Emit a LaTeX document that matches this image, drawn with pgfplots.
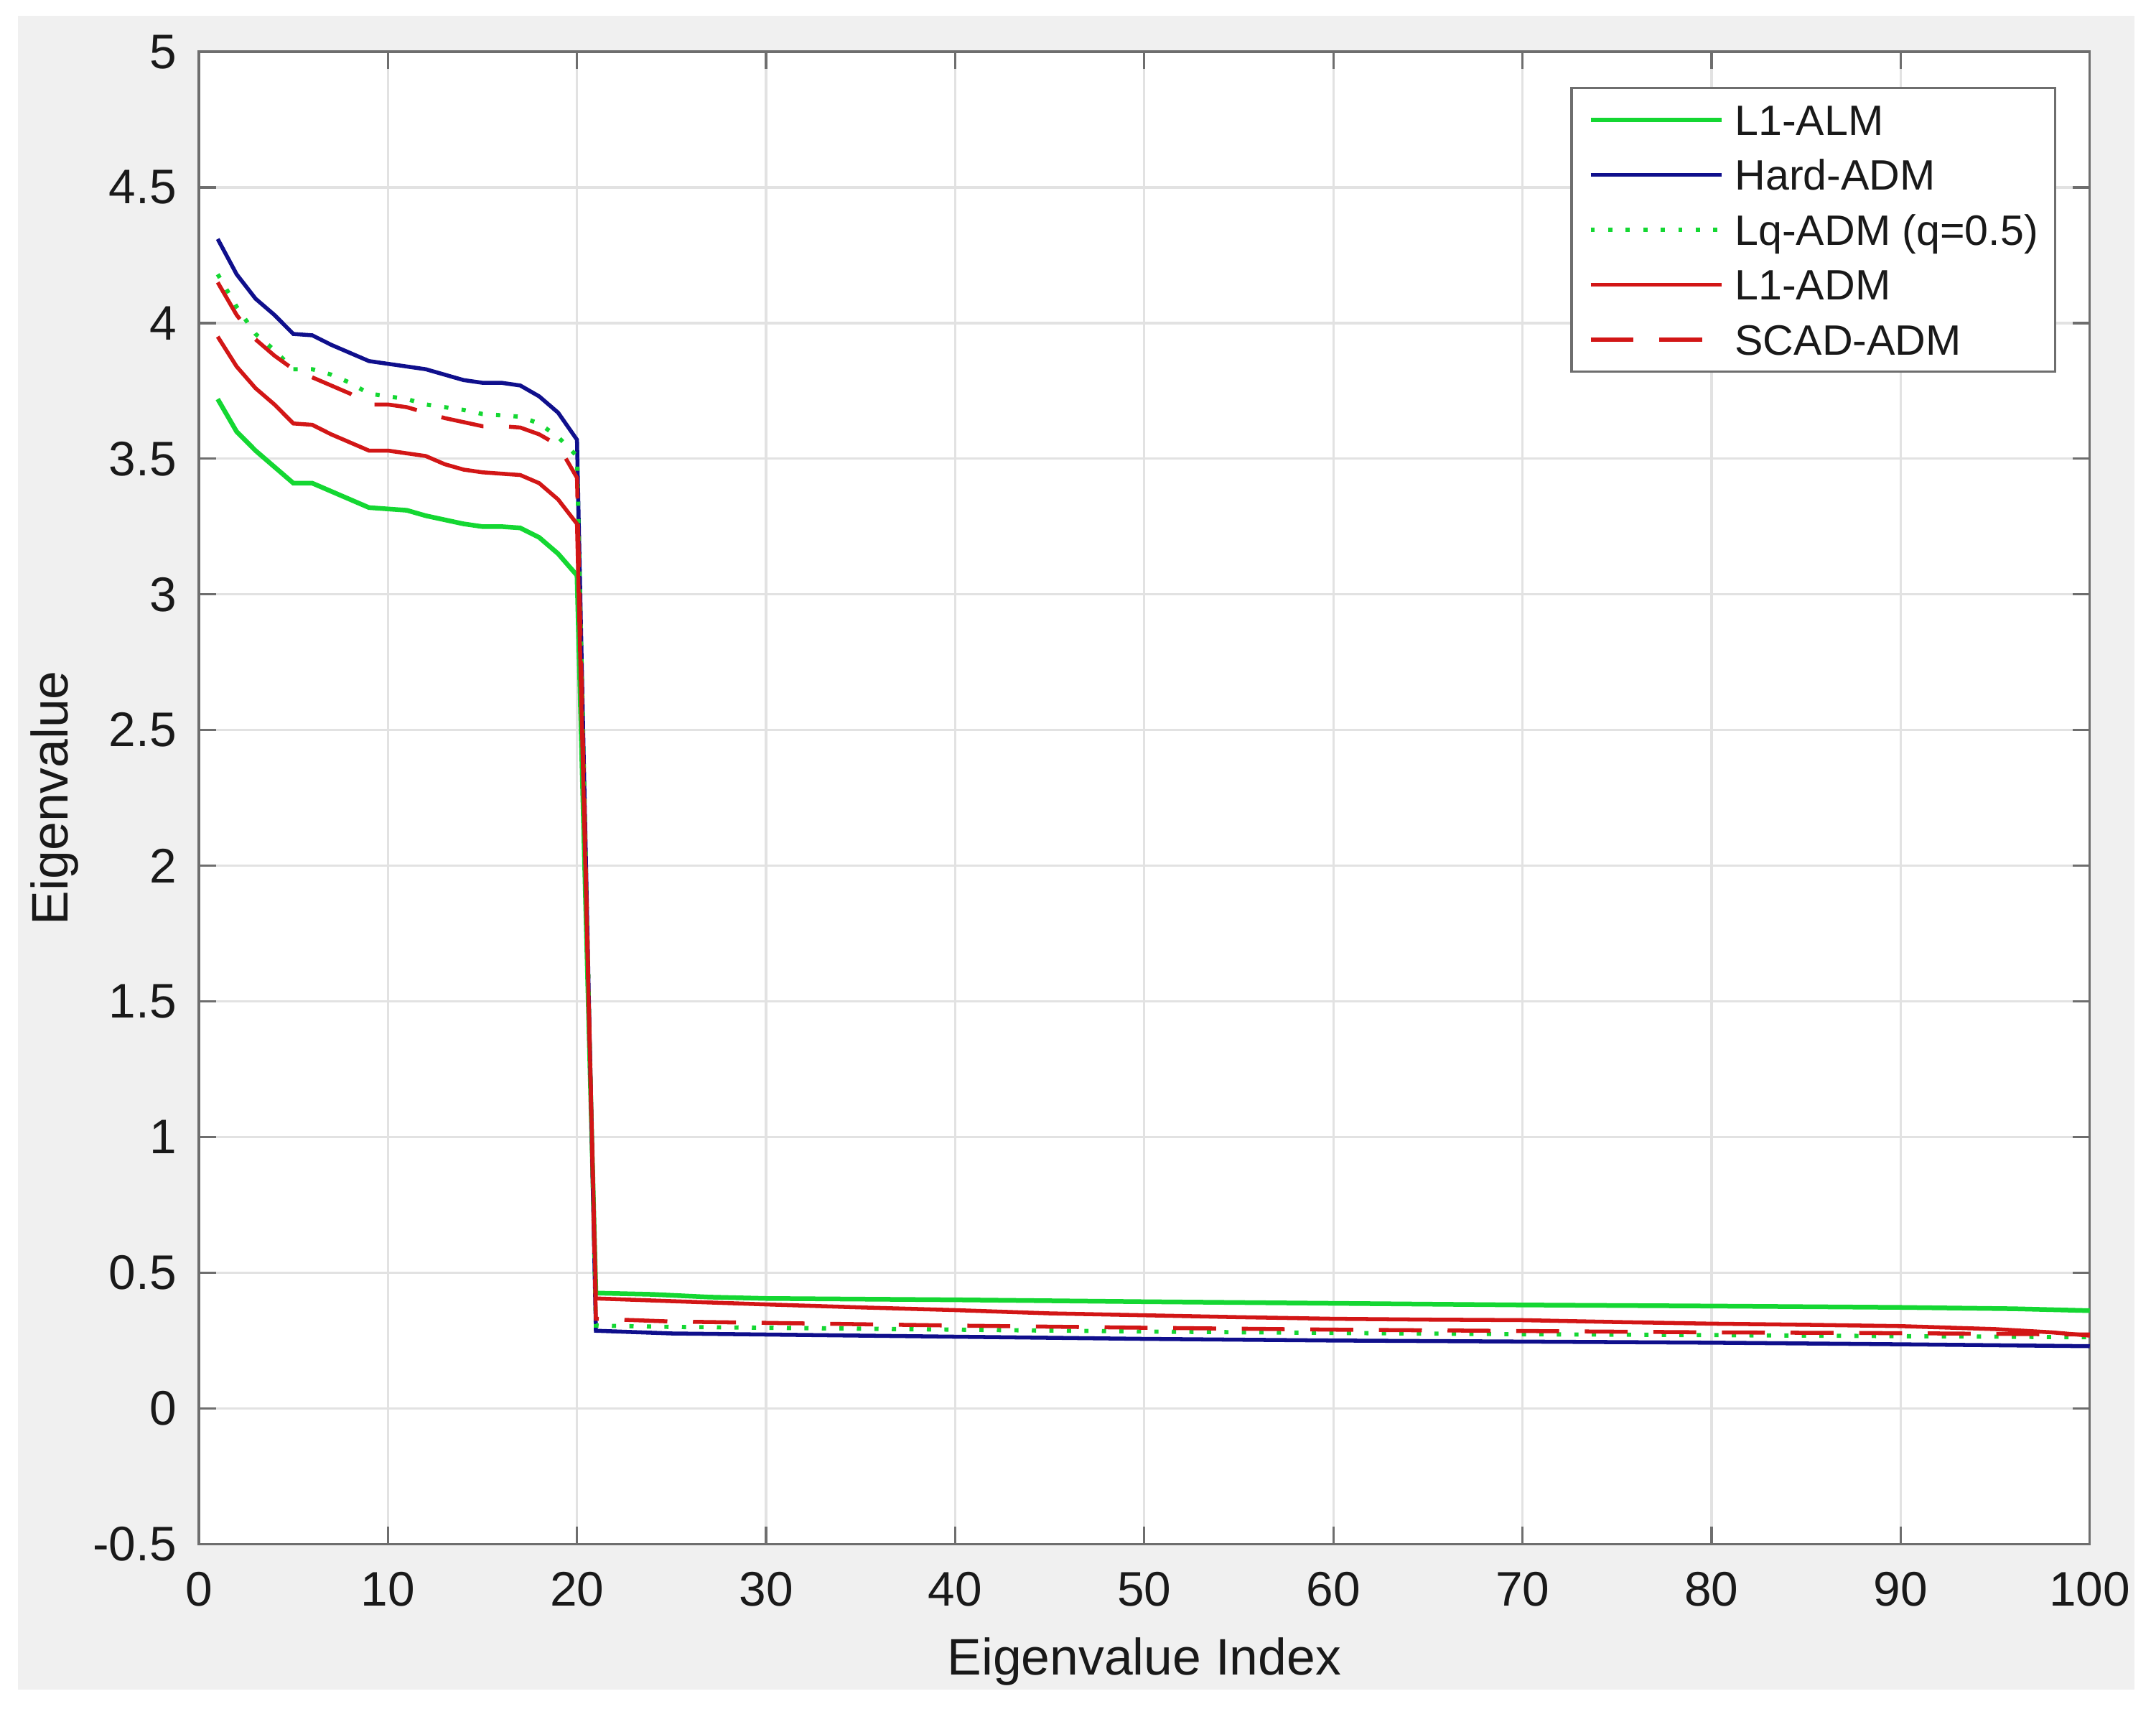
\documentclass[border=0pt]{standalone}
\usepackage{fontspec}
\setmainfont{Liberation Sans}
\usepackage{pgfplots}
\pgfplotsset{compat=1.18}
\definecolor{bgray}{RGB}{240,240,240}
\definecolor{axgray}{RGB}{110,110,110}
\definecolor{gridgray}{RGB}{226,226,226}
\definecolor{cgreen}{RGB}{20,215,50}
\definecolor{cblue}{RGB}{15,15,140}
\definecolor{cred}{RGB}{210,22,22}
\definecolor{txt}{RGB}{25,25,25}
\begin{document}
\begin{tikzpicture}
\fill[white] (0,0) rectangle (462pt,366pt);
\fill[bgray] (3.85pt,4pt) rectangle (457.4pt,362.6pt);
\begin{axis}[
  at={(42.6pt,35.2pt)}, anchor=south west,
  scale only axis, width=405.2pt, height=319.7pt,
  xmin=0, xmax=100, ymin=-0.5, ymax=5,
  xtick={0,10,20,30,40,50,60,70,80,90,100},
  xticklabels={0,10,20,30,40,50,60,70,80,90,100},
  ytick={-0.5,0,0.5,1,1.5,2,2.5,3,3.5,4,4.5,5},
  yticklabels={-0.5,0,0.5,1,1.5,2,2.5,3,3.5,4,4.5,5},
  tick align=inside, major tick length=3.7pt,
  tick style={axgray, line width=0.5pt},
  axis line style={axgray, line width=0.5pt},
  grid=major, major grid style={gridgray, line width=0.5pt},
  axis background/.style={fill=white},
  ticklabel style={font=\fontsize{10.4}{12}\selectfont, text=txt},
  xticklabel style={anchor=base, yshift=-13.35pt},
  yticklabel style={anchor=east, inner xsep=0pt, xshift=-4.6pt},
  xlabel={Eigenvalue Index}, ylabel={Eigenvalue},
  every axis x label/.style={at={(axis description cs:0.5,-0.0876)}, anchor=base, font=\fontsize{11}{13}\selectfont, text=txt},
  every axis y label/.style={at={(axis description cs:-0.0691,0.5)}, rotate=90, anchor=base, font=\fontsize{11}{13}\selectfont, text=txt},
  legend cell align=left,
  legend style={at={(1,1)}, anchor=north east, xshift=-7.2pt, yshift=-7.5pt,
    draw=axgray, line width=0.5pt, fill=white,
    font=\fontsize{9.1}{10}\selectfont,
    inner xsep=3.6pt, inner ysep=3.6pt, row sep=5.27pt,
    /tikz/every odd column/.append style={column sep=2.4pt},
    nodes={inner sep=0pt, text height=6.5pt, text depth=0pt, text=txt}},
  legend image code/.code={\draw[#1] plot coordinates {(0pt,0pt) (28pt,0pt)};},
]
% L1-ALM
\addplot[cgreen, line width=1pt] coordinates {
(1,3.72) (2,3.60) (3,3.53) (4,3.47) (5,3.41) (6,3.41) (7,3.38) (8,3.35) (9,3.32) (10,3.315)
(11,3.31) (12,3.29) (13,3.275) (14,3.26) (15,3.25) (16,3.25) (17,3.245) (18,3.21) (19,3.15) (20,3.07)
(21,0.425) (24,0.420) (27,0.410) (30,0.405) (40,0.400) (50,0.393) (60,0.387) (70,0.381) (80,0.377) (90,0.372) (96,0.367) (100,0.360)
};
\addlegendentry{L1-ALM}
% Hard-ADM
\addplot[cblue, line width=0.85pt] coordinates {
(1,4.31) (2,4.18) (3,4.09) (4,4.03) (5,3.96) (6,3.955) (7,3.92) (8,3.89) (9,3.86) (10,3.85)
(11,3.84) (12,3.83) (13,3.81) (14,3.79) (15,3.78) (16,3.78) (17,3.77) (18,3.73) (19,3.67) (20,3.57)
(21,0.286) (25,0.276) (30,0.272) (40,0.264) (50,0.256) (60,0.250) (70,0.246) (80,0.242) (90,0.236) (100,0.229)
};
\addlegendentry{Hard-ADM}
% Lq-ADM
\addplot[cgreen, line width=0.9pt, dash pattern=on 0.9pt off 2.85pt] coordinates {
(1,4.18) (2,4.06) (3,3.96) (4,3.90) (5,3.83) (6,3.83) (7,3.81) (8,3.78) (9,3.74) (10,3.73)
(11,3.72) (12,3.70) (13,3.69) (14,3.68) (15,3.665) (16,3.66) (17,3.655) (18,3.63) (19,3.58) (20,3.51)
(21,0.305) (25,0.300) (30,0.297) (40,0.290) (50,0.283) (60,0.278) (70,0.273) (80,0.270) (90,0.266) (100,0.262)
};
\addlegendentry{Lq-ADM (q=0.5)}
% L1-ADM
\addplot[cred, line width=0.85pt] coordinates {
(1,3.95) (2,3.84) (3,3.76) (4,3.70) (5,3.63) (6,3.625) (7,3.59) (8,3.56) (9,3.53) (10,3.53)
(11,3.52) (12,3.51) (13,3.48) (14,3.46) (15,3.45) (16,3.445) (17,3.44) (18,3.41) (19,3.35) (20,3.26)
(21,0.405) (25,0.395) (30,0.383) (35,0.372) (40,0.362) (45,0.350) (50,0.343) (55,0.336) (60,0.330) (65,0.327)
(70,0.325) (75,0.318) (80,0.312) (85,0.308) (90,0.303) (95,0.292) (98,0.280) (100,0.268)
};
\addlegendentry{L1-ADM}
% SCAD-ADM
\addplot[cred, line width=0.85pt, dash pattern=on 9.2pt off 5.5pt] coordinates {
(1,4.15) (2,4.03) (3,3.94) (4,3.88) (5,3.83) (6,3.80) (7,3.77) (8,3.74) (9,3.70) (10,3.70)
(11,3.69) (12,3.67) (13,3.65) (14,3.635) (15,3.62) (16,3.62) (17,3.615) (18,3.59) (19,3.55) (20,3.43)
(21,0.330) (25,0.320) (30,0.315) (40,0.305) (50,0.297) (60,0.290) (70,0.285) (80,0.280) (90,0.277) (100,0.272)
};
\addlegendentry{SCAD-ADM}
\end{axis}
\end{tikzpicture}
\end{document}
